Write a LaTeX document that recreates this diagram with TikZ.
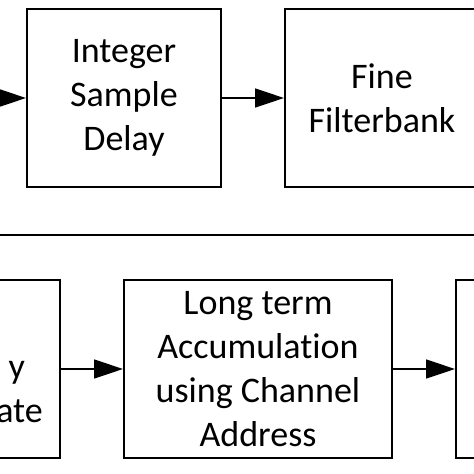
\documentclass[tikz,border=0pt]{standalone}
\usepackage{fontspec}
\setmainfont{Carlito}[Ligatures=CommonOff]
\usetikzlibrary{arrows.meta}
\tikzset{
  blk/.style={draw=black, line width=2pt, rectangle, minimum height=178pt, align=center,
    font=\fontsize{36pt}{44pt}\selectfont, inner sep=0pt},
  conn/.style={draw=black, line width=1.5pt, -{Triangle[length=29pt,width=19pt]}},
  divider/.style={draw=black, line width=2pt},
  frag/.style={font=\fontsize{36pt}{44pt}\selectfont, inner sep=0pt}
}
\begin{document}
\begin{tikzpicture}[x=1pt,y=-1pt]
\useasboundingbox (0,0) rectangle (474,474);
\clip (0,0) rectangle (474,474);
\fill[white] (0,0) rectangle (474,474);
% top row
\coordinate (in) at (-5,98);
\node[blk, minimum width=194pt] (isd) at (124,98) {Integer\\Sample\\Delay};
\node[blk, minimum width=194pt] (ffb) at (382,98) {Fine\\Filterbank};
\draw[conn] (in) -- (isd.west);
\draw[conn] (isd.east) -- (ffb.west);
% divider
\coordinate (dl) at (0,235);
\coordinate (dr) at (474,235);
\draw[divider] (dl) -- (dr);
% bottom row
\node[blk, minimum width=194pt] (left) at (-37,369) {};
\node[frag, anchor=base east] (fy) at (25,378) {y};
\node[frag, anchor=base east] (fate) at (43,422) {ate};
\node[blk, minimum width=268pt] (lta) at (258,369) {Long term\\Accumulation\\using Channel\\Address};
\node[blk, minimum width=194pt] (right) at (553,369) {};
\draw[conn] (left.east) -- (lta.west);
\draw[conn] (lta.east) -- (right.west);
\end{tikzpicture}
\end{document}
